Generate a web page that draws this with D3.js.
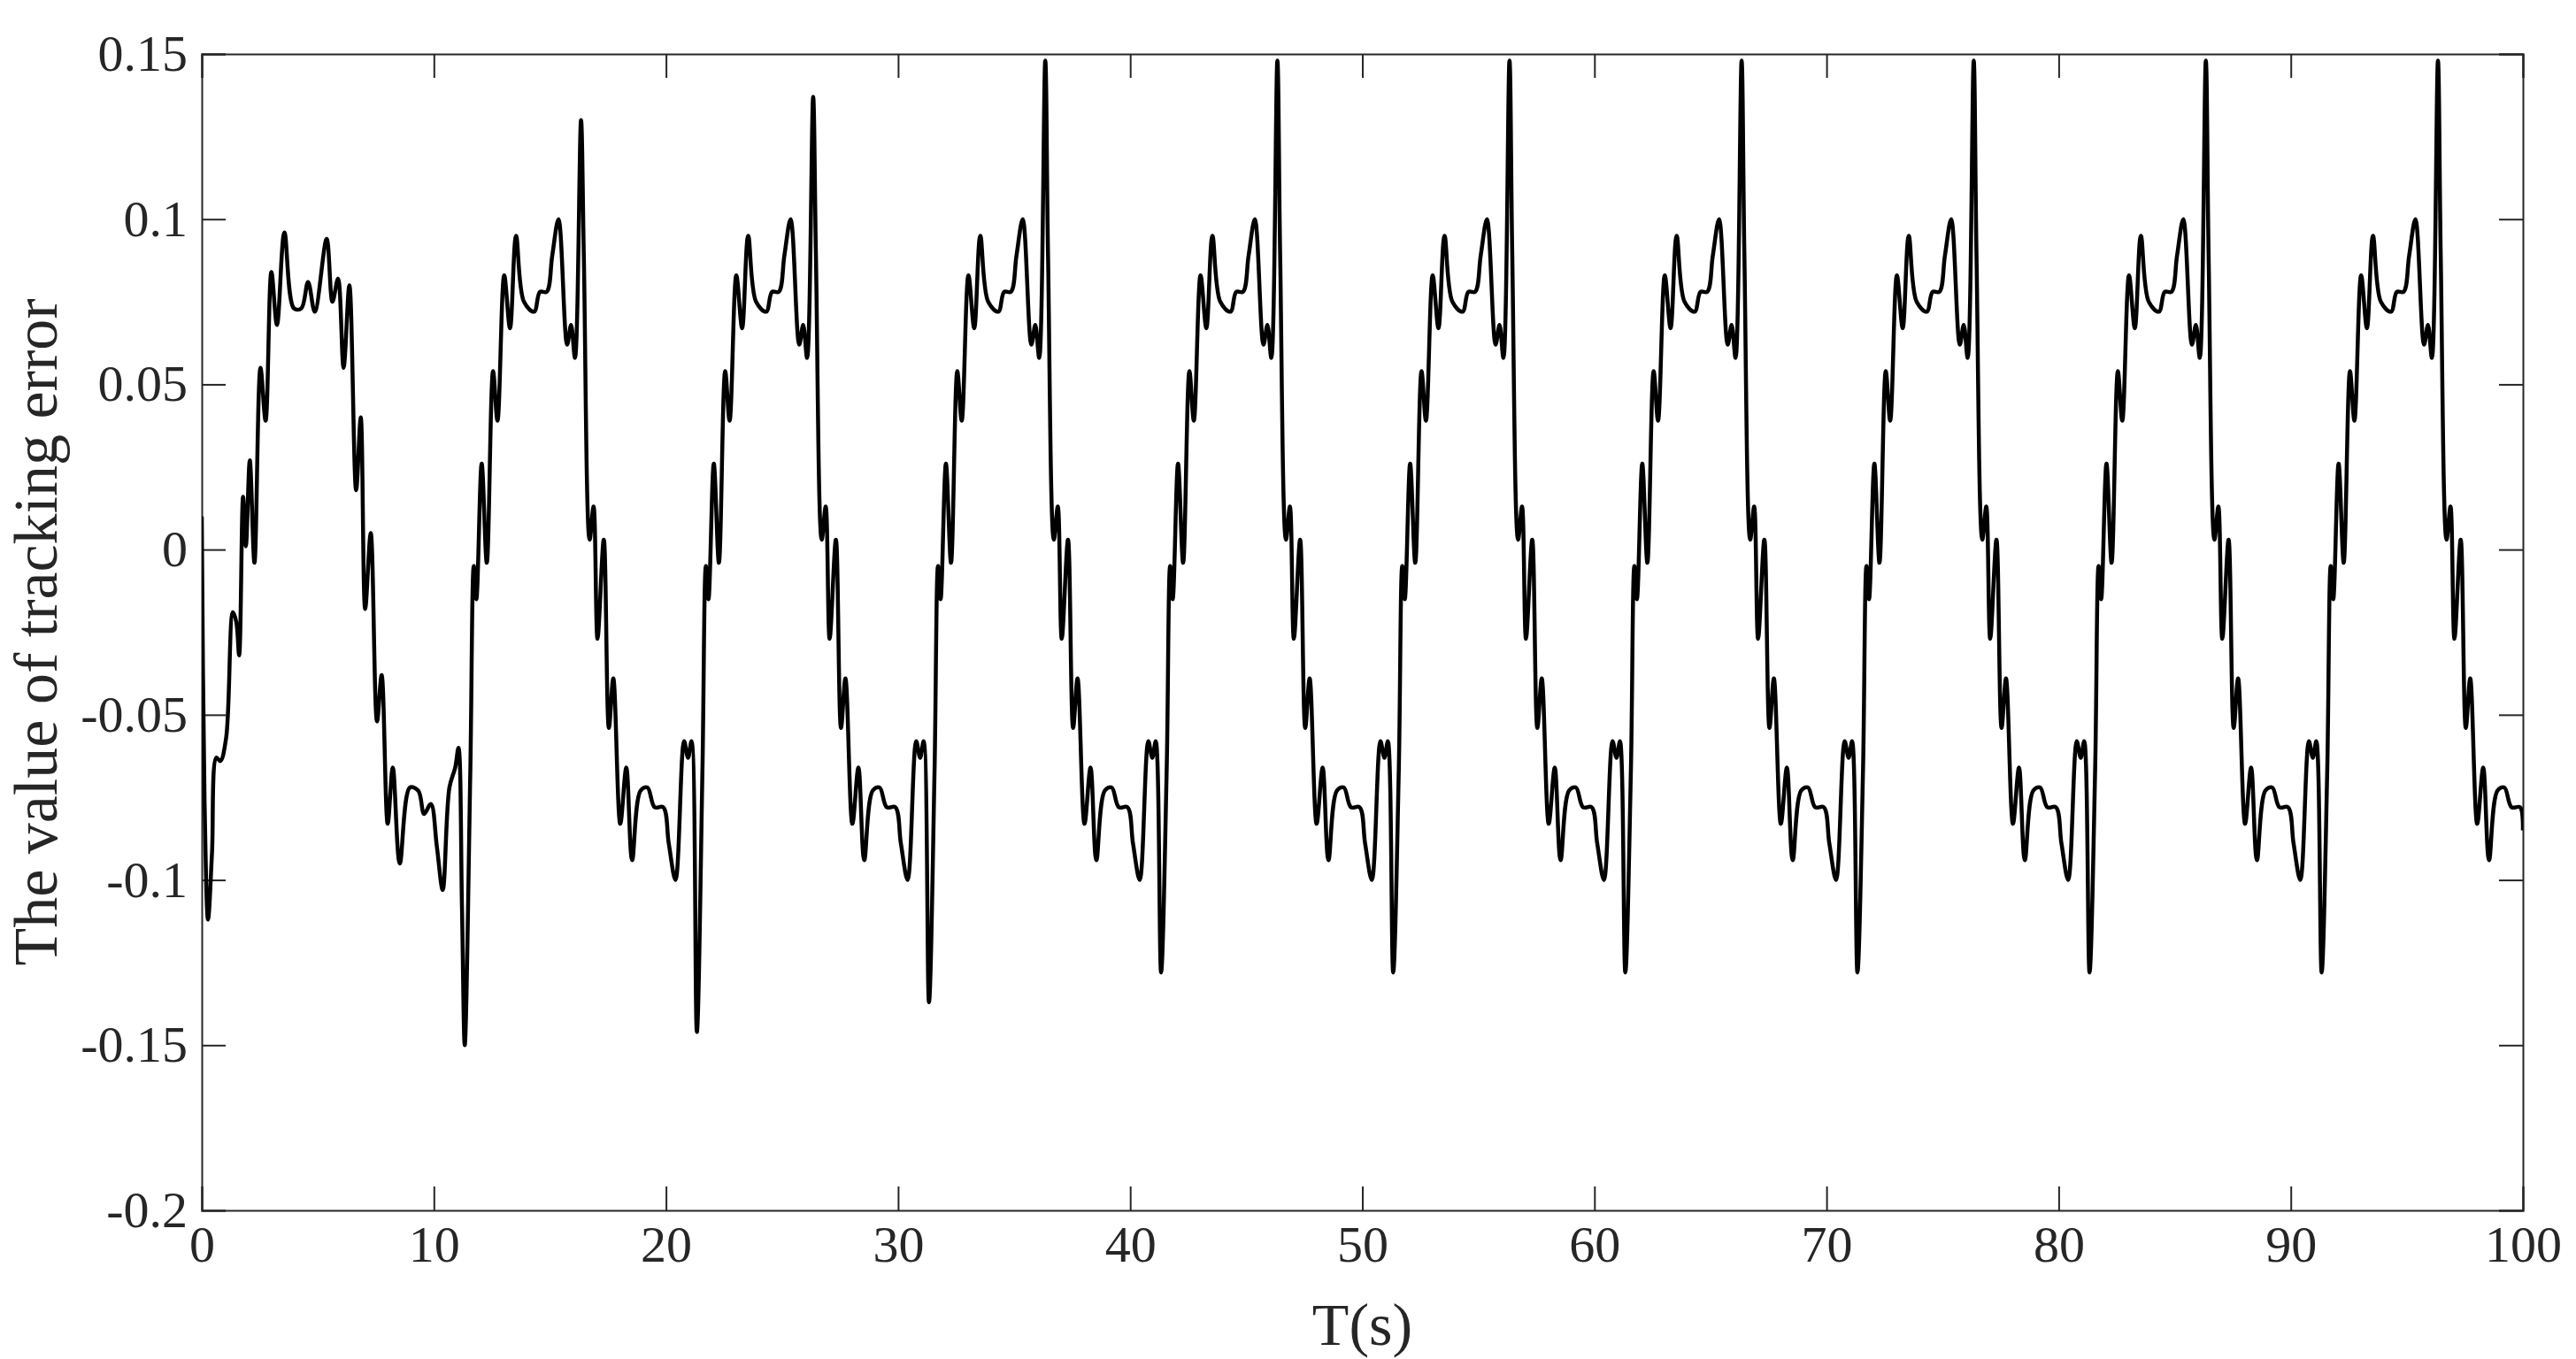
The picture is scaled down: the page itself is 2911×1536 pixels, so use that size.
<!DOCTYPE html>
<html>
<head>
<meta charset="utf-8">
<script src="https://cdn.jsdelivr.net/npm/d3@7"></script>
<style>
  body { margin: 0; background: #fff; }
  text { font-family: "Liberation Serif", "Times New Roman", serif; fill: #262626; }
</style>
</head>
<body>
<div id="chart"></div>
<script>
// First period (0 - 11.3 s)
let firstT = [0, 0.12, 0.27, 0.44, 0.63, 0.80, 1.05, 1.34, 1.49, 1.61, 1.78, 1.90, 2.07, 2.27, 2.53, 2.75, 3.00, 3.24, 3.56, 3.97, 4.29, 4.58, 4.87, 5.38, 5.63, 5.87, 6.11, 6.36, 6.65, 6.85, 7.04, 7.28, 7.55, 7.75, 8.01, 8.23, 8.53, 8.97, 9.33, 9.58, 9.87, 10.13, 10.38, 10.67, 10.92, 11.06, 11.21];
let firstV = [0.010, -0.076, -0.112, -0.092, -0.063, -0.064, -0.057, -0.019, -0.022, -0.032, 0.016, 0.001, 0.027, -0.004, 0.055, 0.039, 0.084, 0.068, 0.096, 0.073, 0.073, 0.081, 0.072, 0.094, 0.075, 0.082, 0.055, 0.080, 0.018, 0.040, -0.018, 0.005, -0.052, -0.038, -0.083, -0.066, -0.095, -0.072, -0.073, -0.080, -0.077, -0.090, -0.103, -0.072, -0.066, -0.060, -0.108];

// Shape of one later period, time measured from the start of its 10 s window
let cycleT = [1.57, 1.72, 1.83, 2.06, 2.28, 2.55, 2.74, 3.03, 3.28, 3.54, 3.88, 4.32, 4.57, 4.86, 5.10, 5.37, 5.74, 5.91, 6.08, 6.46, 6.71, 6.88, 7.05, 7.32, 7.54, 7.73, 8.03, 8.29, 8.54, 8.90, 9.20, 9.51, 9.88, 10.12, 10.41, 10.78, 10.95, 11.10];
let cycleV = [-0.067, -0.005, -0.015, 0.026, -0.004, 0.054, 0.039, 0.083, 0.067, 0.095, 0.075, 0.072, 0.078, 0.078, 0.089, 0.100, 0.062, 0.068, 0.058, 0.089, 0.003, 0.013, -0.027, 0.003, -0.054, -0.039, -0.083, -0.066, -0.094, -0.073, -0.072, -0.078, -0.078, -0.089, -0.100, -0.058, -0.063, -0.058];

// Spike values per period (dip near +1.33 s, peak near +6.34 s)
let dipValues  = [-0.150, -0.146, -0.137, -0.128, -0.128, -0.128, -0.128, -0.128, -0.128];
let peakValues = [0.130, 0.137, 0.148, 0.148, 0.148, 0.148, 0.148, 0.148, 0.148];

let xTicks = [0, 10, 20, 30, 40, 50, 60, 70, 80, 90, 100];
let yTicks = [-0.2, -0.15, -0.1, -0.05, 0, 0.05, 0.1, 0.15];

// build series
let series = firstT.map((t, i) => ({ t: t, v: firstV[i] }));
dipValues.forEach(function(dip, k) {
    let base = (k + 1) * 10;
    series.push({ t: base + 1.33, v: dip });
    cycleT.forEach(function(t, i) {
        series.push({ t: base + t, v: cycleV[i] });
        if (i === 18) series.push({ t: base + 6.34, v: peakValues[k] });
    });
});
series = series.filter(d => d.t <= 100);
series.push({ t: 100, v: -0.085 });

let svgWidth = 2911;
let svgHeight = 1536;
let margin = { top: 61, right: 60, bottom: 168, left: 228 };
let width = svgWidth - margin.left - margin.right;
let height = svgHeight - margin.top - margin.bottom;

let svg = d3.select('#chart')
    .append('svg')
    .attr('width', svgWidth)
    .attr('height', svgHeight);

let chartGroup = svg.append('g')
    .attr('transform', `translate(${margin.left}, ${margin.top})`);

let x = d3.scaleLinear().domain([0, 100]).range([0, width]);
let y = d3.scaleLinear().domain([-0.2, 0.15]).range([height, 0]);

svg.append('clipPath').attr('id', 'clip')
    .append('rect').attr('width', width).attr('height', height);

let tickLen = 27;
let fmt = d => (d === 0 ? '0' : String(+d.toFixed(2)));

let bottomAxis = chartGroup.append('g')
    .attr('transform', `translate(0,${height})`)
    .call(d3.axisBottom(x).tickValues(xTicks).tickSize(-tickLen).tickPadding(14).tickFormat(fmt));
let leftAxis = chartGroup.append('g')
    .call(d3.axisLeft(y).tickValues(yTicks).tickSize(-tickLen).tickPadding(16).tickFormat(fmt));
chartGroup.append('g')
    .call(d3.axisTop(x).tickValues(xTicks).tickSize(-tickLen).tickFormat(''));
chartGroup.append('g')
    .attr('transform', `translate(${width},0)`)
    .call(d3.axisRight(y).tickValues(yTicks).tickSize(-tickLen).tickFormat(''));

chartGroup.selectAll('.domain, .tick line')
    .attr('stroke', '#262626').attr('stroke-width', 2);
chartGroup.selectAll('.tick text')
    .style('font-size', '58px').attr('fill', '#262626');
bottomAxis.selectAll('.tick text').attr('dy', '0.75em');

let line = d3.line()
    .x(d => x(d.t))
    .y(d => y(d.v))
    .curve(d3.curveCatmullRom.alpha(0.5));

chartGroup.append('path')
    .datum(series)
    .attr('clip-path', 'url(#clip)')
    .attr('fill', 'none')
    .attr('stroke', '#000')
    .attr('stroke-width', 4.5)
    .attr('stroke-linejoin', 'round')
    .attr('d', line);

// axis labels
chartGroup.append('text')
    .attr('x', width / 2)
    .attr('y', height + 152)
    .attr('text-anchor', 'middle')
    .style('font-size', '68px')
    .text('T(s)');

chartGroup.append('text')
    .attr('transform', 'rotate(-90)')
    .attr('x', -height / 2)
    .attr('y', -margin.left + 64)
    .attr('text-anchor', 'middle')
    .style('font-size', '70px')
    .text('The value of tracking error');
</script>
</body>
</html>
